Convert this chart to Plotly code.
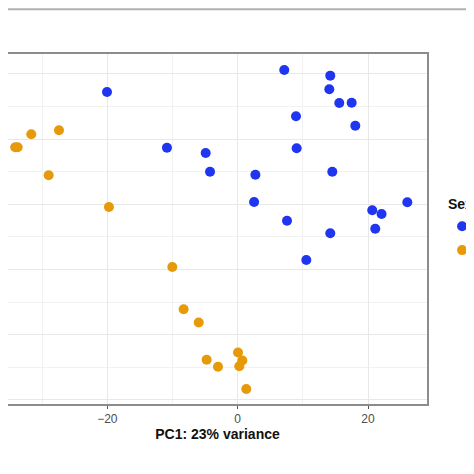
import plotly.graph_objects as go

# PCA scores (PC1, PC2)
male_pc1 = [7.15, 14.21, -20.05, 14.06, 15.59, 17.49, 8.95, 18.05, -10.85, -4.91, 9.05,
            -4.24, 2.72, 14.52, 2.52, 26.03, 20.65, 22.08, 7.57, 21.11, 14.21, 10.53]
male_pc2 = [20.61, 19.74, 17.23, 17.65, 15.54, 15.59, 13.5, 12.06, 8.68, 7.87, 8.59,
            5.0, 4.54, 5.0, 0.35, 0.31, -0.92, -1.49, -2.52, -3.76, -4.46, -8.55]

female_pc1 = [-34.13, -33.76, -31.67, -27.42, -29.0, -19.75, -10.03, -8.29, -5.98,
              0.05, -4.76, 0.72, -3.02, 0.25, 1.32]
female_pc2 = [8.75, 8.75, 10.74, 11.36, 4.45, -0.41, -9.62, -16.1, -18.15,
              -22.75, -23.87, -23.98, -24.94, -24.86, -28.34]

x_ticks = [-20, 0, 20]
x_labels = ["\u221220", "0", "20"]

fig = go.Figure()

fig.add_trace(go.Scatter(
    x=male_pc1, y=male_pc2,
    mode='markers',
    name='Male',
    marker=dict(size=10, color='#2035f0', line=dict(width=0))
))

fig.add_trace(go.Scatter(
    x=female_pc1, y=female_pc2,
    mode='markers',
    name='Female',
    marker=dict(size=10, color='#e69a0a', line=dict(width=0))
))

grid = '#e8e8e8'

fig.update_xaxes(
    range=[-35.24, 29.05],
    tickvals=x_ticks,
    ticktext=x_labels,
    ticks='outside', ticklen=3, tickcolor='#555', tickwidth=1,
    tickfont=dict(size=12, color='#4d4d4d'),
    showgrid=True, gridcolor=grid, gridwidth=1,
    minor=dict(dtick=10, tick0=0, showgrid=True, gridcolor='#f2f2f2', gridwidth=1),
    showline=True, linecolor='#8c8c8c', linewidth=1.5, mirror=True,
    zeroline=False,
    title=dict(text='<b>PC1: 23% variance</b>', font=dict(size=14, color='#111'), standoff=4)
)

fig.update_yaxes(
    range=[-30.65, 23.06],
    dtick=10, tick0=0,
    side='right',
    showticklabels=False, ticks='',
    showgrid=True, gridcolor=grid, gridwidth=1,
    minor=dict(dtick=5, tick0=0, showgrid=True, gridcolor='#f2f2f2', gridwidth=1),
    showline=True, linecolor='#8c8c8c', linewidth=1.5, mirror=False,
    zeroline=False
)

# thin grey frame line along the top of the image
fig.add_shape(type='line', xref='paper', yref='paper',
              x0=0, x1=1.15, y0=1.128, y1=1.128,
              line=dict(color='#b0b0b0', width=2))

fig.update_layout(
    width=474, height=474,
    margin=dict(l=0, r=55, t=46, b=78, autoexpand=False),
    plot_bgcolor='white',
    paper_bgcolor='white',
    font=dict(family='Liberation Sans, Arial, sans-serif'),
    showlegend=True,
    legend=dict(
        title=dict(text='\u00a0<b>Sex</b>', font=dict(size=14, color='#111')),
        x=1.036, xanchor='left',
        y=0.608, yanchor='top',
        font=dict(size=16),
        bgcolor='rgba(0,0,0,0)',
        itemsizing='trace'
    )
)

fig.write_html("out.html")
